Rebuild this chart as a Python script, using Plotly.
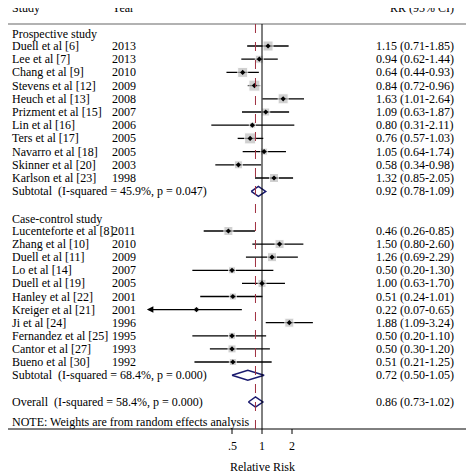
import plotly.graph_objects as go
import math

pro_names = ["Duell et al [6]","Lee et al [7]","Chang et al [9]","Stevens et al [12]","Heuch et al [13]",
             "Prizment et al [15]","Lin et al [16]","Ters et al [17]","Navarro et al [18]","Skinner et al [20]","Karlson et al [23]"]
pro_years = [2013,2013,2010,2009,2008,2007,2006,2005,2005,2003,1998]
pro_rr = [1.15,0.94,0.64,0.84,1.63,1.09,0.80,0.76,1.05,0.58,1.32]
pro_lo = [0.71,0.62,0.44,0.72,1.01,0.63,0.31,0.57,0.64,0.34,0.85]
pro_hi = [1.85,1.44,0.93,0.96,2.64,1.87,2.11,1.03,1.74,0.98,2.05]
pro_w = [10,8,10,11,10,8,6,11,7,8,9]
pro_sub = (0.92,0.78,1.09)

cc_names = ["Lucenteforte et al [8]","Zhang et al [10]","Duell et al [11]","Lo et al [14]","Duell et al [19]",
            "Hanley et al [22]","Kreiger et al [21]","Ji et al [24]","Fernandez et al [25]","Cantor et al [27]","Bueno et al [30]"]
cc_years = [2011,2010,2009,2007,2005,2001,2001,1996,1995,1993,1992]
cc_rr = [0.46,1.50,1.26,0.50,1.00,0.51,0.22,1.88,0.50,0.50,0.51]
cc_lo = [0.26,0.80,0.69,0.20,0.63,0.24,0.07,1.09,0.20,0.30,0.21]
cc_hi = [0.85,2.60,2.29,1.30,1.70,1.01,0.65,3.24,1.10,1.20,1.25]
cc_w = [9,9,9,7,8,7,5,9,7,8,7]
cc_sub = (0.72,0.50,1.05)
overall = (0.86,0.73,1.02)

OFF = 8  # page body margin
W, H = 474 - OFF, 475 - OFF
ppd = 30 / math.log10(2)
x0 = 262 - OFF
xr = [-x0 / ppd, (W - x0) / ppd]
FONT = "Liberation Serif"
FS = 12
fig = go.Figure()
ann = []
shapes = []

def Y(y):
    return y - OFF

def txt(x, y, s, anchor="left"):
    ann.append(dict(x=(x - OFF) / W, y=Y(y), xref="paper", yref="y", text=s, showarrow=False,
                    xanchor=anchor, yanchor="middle", font=dict(family=FONT, size=FS, color="black")))

def diamond(y, est, lo, hi):
    y = Y(y)
    fig.add_trace(go.Scatter(x=[lo, est, hi, est, lo], y=[y, y - 5, y, y + 5, y], mode="lines",
                             fill="toself", fillcolor="white", line=dict(color="#1a1a6e", width=1.5),
                             hoverinfo="skip"))

def study_block(names, years, rr, lo, hi, w, y_start, step):
    ys = [y_start + i * step for i in range(len(names))]
    for n, yr, r, l, h, wt, y in zip(names, years, rr, lo, hi, w, ys):
        txt(10, y, n)
        txt(110, y, str(yr))
        txt(456, y, f"{r:.2f} ({l:.2f}-{h:.2f})", "right")
        if n.startswith("Kreiger"):
            ann.append(dict(x=math.log10(l), y=Y(y), ax=math.log10(h), ay=Y(y), xref="x", yref="y",
                            axref="x", ayref="y", showarrow=True, arrowhead=2, arrowwidth=1.3,
                            arrowcolor="black", text=""))
        else:
            fig.add_trace(go.Scatter(x=[l, h], y=[Y(y), Y(y)], mode="lines", line=dict(color="black", width=1.3),
                                     hoverinfo="skip"))
    yy = [Y(v) for v in ys]
    fig.add_trace(go.Scatter(x=rr, y=yy, mode="markers", marker=dict(symbol="square", size=w, color="#bdbdbd"),
                             hoverinfo="skip"))
    fig.add_trace(go.Scatter(x=rr, y=yy, mode="markers", marker=dict(symbol="diamond", size=4, color="black"),
                             hoverinfo="skip"))
    return ys

txt(10, 8, "Study"); txt(110, 8, "Year"); txt(456, 8, "RR (95% CI)", "right")
txt(10, 34, "Prospective study")
ys = study_block(pro_names, pro_years, pro_rr, pro_lo, pro_hi, pro_w, 46, 13.2)
ysub = ys[-1] + 13.4
txt(10, ysub, "Subtotal  (I-squared = 45.9%, p = 0.047)")
txt(456, ysub, f"{pro_sub[0]:.2f} ({pro_sub[1]:.2f}-{pro_sub[2]:.2f})", "right")
diamond(ysub, *pro_sub)

txt(10, 219, "Case-control study")
ys = study_block(cc_names, cc_years, cc_rr, cc_lo, cc_hi, cc_w, 231, 13.1)
ysub = ys[-1] + 13.2
txt(10, ysub, "Subtotal  (I-squared = 68.4%, p = 0.000)")
txt(456, ysub, f"{cc_sub[0]:.2f} ({cc_sub[1]:.2f}-{cc_sub[2]:.2f})", "right")
diamond(ysub, *cc_sub)

txt(10, 402, "Overall  (I-squared = 58.4%, p = 0.000)")
txt(456, 402, f"{overall[0]:.2f} ({overall[1]:.2f}-{overall[2]:.2f})", "right")
diamond(402, *overall)
txt(10, 422, "NOTE: Weights are from random effects analysis")

# lines (shape x on a log axis uses data values)
shapes.append(dict(type="line", xref="paper", yref="y", x0=0, x1=1, y0=Y(24), y1=Y(24), line=dict(color="#999", width=1.5)))
shapes.append(dict(type="line", xref="paper", yref="y", x0=0, x1=1, y0=Y(429), y1=Y(429), line=dict(color="black", width=1)))
shapes.append(dict(type="line", xref="x", yref="y", x0=1, x1=1, y0=Y(24), y1=Y(429), line=dict(color="black", width=1)))
shapes.append(dict(type="line", xref="x", yref="y", x0=overall[0], x1=overall[0], y0=Y(24), y1=Y(429), line=dict(color="#a03040", width=1, dash="dash")))
tick_vals = [0.5, 1, 2]
tick_text = [".5", "1", "2"]
for v, t in zip(tick_vals, tick_text):
    shapes.append(dict(type="line", xref="x", yref="y", x0=v, x1=v, y0=Y(429), y1=Y(434), line=dict(color="black", width=1)))
    ann.append(dict(x=math.log10(v), y=Y(446), xref="x", yref="y", text=t, showarrow=False,
                    font=dict(family=FONT, size=FS, color="black")))
ann.append(dict(x=0, y=Y(467), xref="x", yref="y", text="Relative Risk", showarrow=False,
                font=dict(family=FONT, size=FS, color="black")))

fig.update_layout(width=W, height=H, margin=dict(l=0, r=0, t=0, b=0), showlegend=False,
                  plot_bgcolor="white", paper_bgcolor="white", annotations=ann, shapes=shapes,
                  xaxis=dict(type="log", range=xr, visible=False),
                  yaxis=dict(range=[H, 0], visible=False))
fig.write_html("out.html")
